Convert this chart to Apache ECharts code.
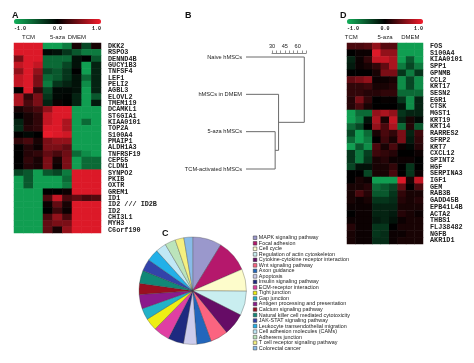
<!DOCTYPE html>
<html><head><meta charset="utf-8">
<style>html,body{margin:0;padding:0;background:#fff}#c{width:474px;height:363px}</style>
<script src="https://cdn.jsdelivr.net/npm/echarts@6/dist/echarts.min.js"></script>
</head><body><div id="c"></div>
<script>
const columnsA = ['', 'TCM', '', '', '5-aza', '', 'DMEM', '', ''];
const columnsD = ['TCM', '', '', '', '5-aza', '', '', 'DMEM', ''];
const genesA = ['DKK2','RSPO3','DENND4B','GUCY1B3','TNFSF4','LEF1','PELI2','AGBL3','ELOVL2','TMEM119','DCAMKL1','ST6GIA1','KIAA0101','TOP2A','S100A4','PMAIP1','ALDH1A3','TNFRSF19','CEP55','CLDN1','SYNPO2','PKIB','OXTR','GREM1','ID1','ID2 /// ID2B','ID2','CHI3L1','MYH3','C6orf190'];
const genesD = ['FOS','S100A4','KIAA0101','SPP1','GPNMB','CCL2','KRT17','SESN2','EGR1','CTSK','MGST1','KRT19','KRT14','RARRES2','SFRP2','KRT7','CXCL12','SPINT2','HGF','SERPINA3','IGF1','GEM','RAB3B','GADD45B','EPB41L4B','ACTA2','THBS1','FLJ38482','NGFB','AKR1D1'];
const valuesA = [
[.9,.9,.9,-.9,-.9,-.7,.1,-.4,.1],
[.9,.9,.9,-.05,-.1,-.3,-.5,-.7,-.7],
[.5,.9,.9,-.6,-.6,-.6,-.1,0,-.5],
[.8,.9,.8,-.6,-.6,-.4,-.1,-.9,-.2],
[.6,.9,.6,-.4,-.5,-.3,0,-.9,-.2],
[.8,.9,.5,-.6,-.5,-.3,-.1,-.6,-.2],
[.8,.9,.5,-.7,-.3,-.2,-.1,-.8,-.2],
[0,.9,.2,-.4,-.05,-.05,-.1,-.9,-.2],
[.7,.2,.5,-.3,-.05,-.02,-.2,-.9,-.5],
[.7,.3,.5,-.2,.05,0,-.2,-.9,-.15],
[.1,.2,.3,.6,.9,.9,-.9,-.9,-.9],
[0,.1,.2,.8,.9,.9,-.9,-.9,-.9],
[-.2,.1,.2,.8,.9,.7,-.9,-.6,-.9],
[-.25,.15,.2,.9,.9,.7,-.9,-.9,-.9],
[0,-.05,0,.95,.9,.85,-.9,-.9,-.9],
[.2,.3,.1,.5,.6,.6,-.9,-.9,-.9],
[0,.15,.05,.5,.5,.4,-.9,-.9,-.9],
[0,.15,.2,.4,.3,.45,-.6,-.8,-.9],
[0,.2,.1,.5,.1,.5,-.9,-.6,-.6],
[0,.15,.1,.5,.05,.5,-.9,-.6,-.6],
[-.4,-.5,-.9,-.5,-.4,-.7,.9,.9,.9],
[-.9,-.5,-.9,-.9,-.9,-.6,.9,.9,.9],
[-.9,-.5,-.9,-.9,-.9,-.7,.9,.9,.9],
[-.9,-.9,-.9,0,0,.05,.9,.9,.9],
[-.9,-.9,-.9,.3,.8,.3,.4,.3,.35],
[-.9,-.9,-.9,.05,.4,.1,.9,.9,.9],
[-.9,-.9,-.9,0,.25,.05,.9,.9,.9],
[-.9,-.9,-.9,.3,.6,.3,.9,.9,.9],
[-.9,-.9,-.9,.4,.5,.5,.9,.9,.9],
[-.9,-.9,-.9,.4,.1,.6,.9,.9,.9]];
const valuesD = [
[.3,.3,.35,.6,.35,.35,-.9,-.9,-.9],
[0,.05,.05,.9,.6,.6,-.9,-.9,-.9],
[-.2,.05,.2,.8,.8,.7,-.9,-.5,-.9],
[-.15,.05,.1,.2,.4,.7,-.7,-.4,-.7],
[0,0,0,.1,.5,.5,-.3,-.7,-.3],
[.4,.5,.6,.05,.05,.1,-.8,-.4,-.8],
[.2,.2,.25,.1,.1,.15,-.8,-.4,-.8],
[.2,.2,.15,.15,.2,.2,-.6,-.6,-.6],
[.15,.5,.2,0,.03,.02,-.3,-.8,-.2],
[.15,.3,.1,0,0,0,-.1,-.8,-.2],
[-.9,-.6,-.6,.6,.7,.6,-.3,-.2,-.2],
[-.9,-.7,-.1,.7,.1,.8,-.2,.1,-.05],
[-.6,-.4,0,.6,.3,.7,-.6,.15,-.5],
[-.4,-.9,-.6,.1,.3,.2,.5,-.2,.25],
[-.6,-.9,-.7,0,.25,.1,.5,-.15,.2],
[-.9,-.5,-.8,.3,.1,.3,.05,-.05,.15],
[-.3,-.7,-.35,.25,.2,.15,0,0,.05],
[-.3,-.7,-.3,.1,.15,.05,.05,.05,0],
[-.4,-.1,-.1,.1,.1,.2,0,-.3,0],
[0,0,-.4,.1,.1,.3,0,-.3,.05],
[0,.1,.05,-.9,-.9,-.9,.9,.1,.8],
[.1,.1,.15,-.6,-.5,-.4,.4,0,.3],
[.1,.3,.15,-.5,-.5,-.3,.2,.1,.1],
[.1,.05,.1,-.3,-.3,-.25,.15,.1,.15],
[.05,.05,.05,-.2,-.2,-.2,.1,.1,.1],
[0,.05,.05,-.2,-.2,-.15,.15,.1,.05],
[.05,.05,.05,-.15,-.2,-.1,.05,.1,.1],
[.15,.05,.05,-.3,-.3,0,.1,.1,.1],
[.1,.05,.05,-.3,-.25,.05,.05,.1,.1],
[.1,.05,.05,-.25,-.25,.05,.1,.1,.1]];
const dendroLeaves = ['Naive hMSCs','hMSCs in DMEM','5-aza hMSCs','TCM-activated hMSCs'];
const cladeOne = [[0,2],[34,2],[34,3],[0,3]];
const cladeTwo = [[0,1],[38,1],[38,2.5],[34,2.5]];
const cladeThree = [[0,0],[68,0],[68,1.75],[38,1.75]];
const pathways = ['MAPK signaling pathway','Focal adhesion','Cell cycle','Regulation of actin cytoskeleton','Cytokine-cytokine receptor interaction','Wnt signaling pathway','Axon guidance','Apoptosis','Insulin signaling pathway','ECM-receptor interaction','Tight junction','Gap junction','Antigen processing and presentation','Calcium signaling pathway','Natural killer cell mediated cytotoxicity','JAK-STAT signaling pathway','Leukocyte transendothelial migration','Cell adhesion molecules (CAMs)','Adherens junction','T cell receptor signaling pathway','Colorectal cancer'];
const pathwayShares = [31.5,35,24,26.4,24,19,15.7,14.3,17,17.5,13.5,12.5,15.5,12,14,13,13,11.4,11.6,9.5,9.5];
const pathwayColors = ['#9a98cc','#b5186c','#fdfccb','#c9eef0','#660c66','#fb6480','#2366bb','#ccccec','#1e2a80','#e03fa3','#eeee14','#22b2c8','#8b1a8c','#9a0f20','#118877','#3343aa','#22b0e8','#c0e8f5','#bbe4bb','#f5f080','#88bbe8'];
const heatColors = ['#12b05a','#000000','#f41c2c'];
const monoBold = {fontFamily:'"Liberation Mono", monospace', fontWeight:'bold', color:'#222'};
const sans = {fontFamily:'"Liberation Sans", Arial, sans-serif', color:'#222'};

function cells(values){
  const out=[]; values.forEach((r,y)=>r.forEach((v,x)=>out.push([x,y,v]))); return out;
}
function barAxis(i){
  return {gridIndex:i,type:'value',min:-1,max:1,interval:1,position:'top',
    axisLine:{show:false},axisTick:{show:false},splitLine:{show:false},
    axisLabel:{...monoBold,fontSize:5,margin:0,alignMinLabel:'left',alignMaxLabel:'right',formatter:v=>v.toFixed(1)}};
}
function heatX(i,names){
  return {gridIndex:i,type:'category',data:names,position:'top',
    axisLine:{show:false},axisTick:{show:false},splitLine:{show:false},
    axisLabel:{...sans,fontSize:6,margin:2.5,interval:0}};
}
function heatY(i,names){
  return {gridIndex:i,type:'category',data:names,inverse:true,position:'right',
    axisLine:{show:false},axisTick:{show:false},splitLine:{show:false},
    axisLabel:{...monoBold,fontSize:6.8,margin:7,interval:0}};
}
function hiddenY(i){return {gridIndex:i,type:'value',show:false,min:0,max:1};}
function clade(d){
  return {type:'line',xAxisIndex:3,yAxisIndex:3,data:d,showSymbol:false,clip:false,silent:true,
    lineStyle:{color:'#6a6a6a',width:1}};
}
function bar(left,i){
  return {type:'continuous',seriesIndex:i,min:-1,max:1,orient:'horizontal',left:left,top:19,padding:0,
    itemWidth:5,itemHeight:left===14?87:76,text:null,calculable:false,showLabel:false,hoverLink:false,
    inRange:{color:heatColors}};
}
const chart = echarts.init(document.getElementById('c'),null,{renderer:'canvas'});
chart.setOption({
  animation:false,backgroundColor:'#fff',
  title:[['A',12,11],['B',185,11],['C',162,229],['D',340,11]].map(t=>({text:t[0],left:t[1],top:t[2],padding:0,
    textStyle:{fontFamily:'"Liberation Sans", Arial, sans-serif',fontWeight:'bold',fontSize:9,color:'#111'}})),
  grid:[
    {left:14,top:43,width:87,height:190},
    {left:347,top:43,width:76,height:201},
    {left:272,top:52,width:34.2,height:1},
    {left:246,top:57,width:60,height:112},
    {left:14,top:31,width:87,height:1},
    {left:347,top:31,width:76,height:1}
  ],
  xAxis:[
    heatX(0,columnsA),heatX(1,columnsD),
    {gridIndex:2,type:'value',min:30,max:70,interval:5,position:'top',
      axisLine:{show:true,lineStyle:{color:'#666',width:.8}},
      axisTick:{show:true,length:2.5,lineStyle:{color:'#666',width:.7}},splitLine:{show:false},
      axisLabel:{...sans,fontSize:5.6,margin:3,interval:0,formatter:v=>[30,45,60].includes(v)?String(v):''}},
    {gridIndex:3,type:'value',min:0,max:70,show:false},
    barAxis(4),barAxis(5)
  ],
  yAxis:[
    heatY(0,genesA),heatY(1,genesD),
    hiddenY(2),
    {gridIndex:3,type:'value',min:0,max:3,interval:1,inverse:true,
      axisLine:{show:false},axisTick:{show:false},splitLine:{show:false},
      axisLabel:{...sans,fontSize:5.7,margin:4,formatter:v=>dendroLeaves[v]||''}},
    hiddenY(4),hiddenY(5)
  ],
  visualMap:[bar(14,0),bar(347,1)],
  legend:{data:pathways,orient:'vertical',left:253,top:235,padding:0,itemGap:0,itemWidth:3.6,itemHeight:3.6,
    icon:'rect',selectedMode:false,itemStyle:{borderColor:'#333',borderWidth:.5},
    textStyle:{...sans,fontSize:5.4,lineHeight:5.52,padding:[0,0,0,-3]}},
  series:[
    {type:'heatmap',xAxisIndex:0,yAxisIndex:0,data:cells(valuesA),silent:true},
    {type:'heatmap',xAxisIndex:1,yAxisIndex:1,data:cells(valuesD),silent:true},
    clade(cladeOne),clade(cladeTwo),clade(cladeThree),
    {type:'pie',center:[192.7,290.7],radius:53.7,startAngle:90,silent:true,
      label:{show:false},labelLine:{show:false},
      itemStyle:{borderColor:'#333',borderWidth:.3},
      data:pathways.map((n,i)=>({name:n,value:pathwayShares[i],itemStyle:{color:pathwayColors[i]}}))}
  ]
});
</script></body></html>
